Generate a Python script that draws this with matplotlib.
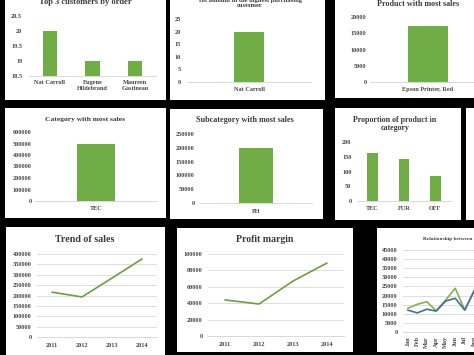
import matplotlib
matplotlib.use("Agg")
import matplotlib.pyplot as plt
from matplotlib.patches import Rectangle

plt.rcParams['font.family'] = ['Liberation Serif', 'DejaVu Serif']

# ---------------- data ----------------
top_customers = ['Nat Carroll', 'Eugene\nHildebrand', 'Maureen\nGastineau']
top_customer_orders = [20, 19, 19]

top_buyer = ['Nat Carroll']
top_buyer_orders = [20]

top_product = ['Epson Printer, Red']
top_product_sales = [17300]

top_category = ['TEC']
top_category_sales = [497000]

top_subcategory = ['PH']
top_subcategory_sales = [199000]

category_labels = ['TEC', 'FUR', 'OFF']
category_products = [163, 142, 85]

years = ['2011', '2012', '2013', '2014']
sales_by_year = [216000, 193000, 284000, 376000]
profit_by_year = [44000, 39000, 67000, 89000]

months = ['Jan', 'Feb', 'Mar', 'Apr', 'May', 'Jun', 'Jul', 'Aug']
monthly_green = [13000, 15200, 16600, 11700, 17600, 24000, 12100, 23000]
monthly_blue = [12000, 10500, 12500, 11500, 17000, 18500, 12000, 22500]

# ---------------- layout helpers ----------------
W, H = 474, 355
fig = plt.figure(figsize=(W / 100, H / 100), dpi=100, facecolor='black')

GREEN = '#70AD47'
LINE_GREEN = '#6E9E3F'
BLUE = '#41709C'
TXT = '#3A3A3A'
TICK = '#454545'
GRID = '#D9D9D9'


def panel(x0, y0, x1, y1):
    fig.add_artist(Rectangle((x0 / W, 1 - y1 / H), (x1 - x0) / W, (y1 - y0) / H,
                             transform=fig.transFigure, facecolor='white',
                             edgecolor='none', zorder=-5))


def axes_at(x0, y0, x1, y1):
    ax = fig.add_axes([x0 / W, 1 - y1 / H, (x1 - x0) / W, (y1 - y0) / H])
    ax.set_facecolor('none')
    for s in ('left', 'right', 'top'):
        ax.spines[s].set_visible(False)
    ax.spines['bottom'].set_color(GRID)
    ax.spines['bottom'].set_linewidth(0.7)
    ax.tick_params(length=0, labelsize=4.5, colors=TICK)
    return ax


def title(x, y, text, size, ha='center'):
    fig.text(x / W, 1 - y / H, text, ha=ha, va='center', fontsize=size,
             fontweight='bold', color=TXT, linespacing=1.0)


def fmt(v):
    return ('%g' % v)


def bar_chart(box, cats, vals, ylim, yticks, width, ypad, xpad):
    ax = axes_at(*box)
    ax.bar(range(len(cats)), vals, width=width, color=GREEN, zorder=2)
    ax.set_xlim(-0.5, len(cats) - 0.5)
    ax.set_ylim(*ylim)
    ax.set_yticks(yticks)
    ax.set_yticklabels([fmt(t) for t in yticks], fontweight='bold')
    ax.set_xticks(range(len(cats)))
    ax.set_xticklabels(cats, fontweight='bold', linespacing=1.1)
    ax.tick_params(axis='y', pad=ypad)
    ax.tick_params(axis='x', pad=xpad)
    return ax


def line_chart(box, cats, series, colors, ylim, yticks, ypad, xpad, nslots=None, rot=0):
    ax = axes_at(*box)
    n = nslots if nslots else len(cats)
    for vals, c in zip(series, colors):
        ax.plot(range(len(vals)), vals, color=c, lw=1.2, zorder=3,
                solid_capstyle='round')
    ax.set_xlim(-0.5, n - 0.5)
    ax.set_ylim(*ylim)
    ax.set_yticks(yticks)
    ax.set_yticklabels([fmt(t) for t in yticks], fontweight='bold')
    ax.set_xticks(range(len(cats)))
    ax.set_xticklabels(cats, fontweight='bold', rotation=rot)
    ax.grid(axis='y', color=GRID, lw=0.6)
    ax.set_axisbelow(True)
    ax.tick_params(axis='y', pad=ypad)
    ax.tick_params(axis='x', pad=xpad)
    return ax


# ---------------- row 1 ----------------
panel(5, -5, 166, 100)
bar_chart((28.5, 16, 156.5, 76), top_customers, top_customer_orders,
          (18.5, 20.5), [18.5, 19, 19.5, 20, 20.5], 0.33, 4.5, 3)
title(85, 2, 'Top 3 customers by order', 6.1)

panel(170, -5, 325, 100)
bar_chart((187, 19, 311, 82), top_buyer, top_buyer_orders,
          (0, 25), [0, 5, 10, 15, 20, 25], 0.24, 4.5, 3.5)
title(250, 3, 'Tot amount in the highest purchasing\ncustomer', 4.7)

panel(335, -5, 480, 98)
bar_chart((370, 17, 486, 82), top_product, top_product_sales,
          (0, 20000), [0, 5000, 10000, 15000, 20000], 0.34, 2.5, 3.5)
title(418, 4, 'Product with most sales', 5.9)

# ---------------- row 2 ----------------
panel(5, 108, 166, 218)
bar_chart((35, 132, 157, 201), top_category, top_category_sales,
          (0, 600000), [0, 100000, 200000, 300000, 400000, 500000, 600000],
          0.31, 2.5, 3.5)
title(85, 120, 'Category with most sales', 5.4)

panel(170, 109, 323, 219)
bar_chart((200, 134, 312, 203), top_subcategory, top_subcategory_sales,
          (0, 250000), [0, 50000, 100000, 150000, 200000, 250000],
          0.30, 4, 4)
title(245, 120, 'Subcategory with most sales', 5.9)

panel(335, 108, 461, 220)
bar_chart((357, 142, 451, 201), category_labels, category_products,
          (0, 200), [0, 50, 100, 150, 200], 0.33, 4, 3.5)
title(395, 124.5, 'Proportion of product in\ncategory', 5.7)

panel(466, 108, 480, 220)

# ---------------- row 3 ----------------
panel(6, 227, 165, 358)
line_chart((37, 254, 157, 337), years, [sales_by_year], [LINE_GREEN],
           (0, 400000), list(range(0, 400001, 50000)), 4, 4)
title(85, 240, 'Trend of sales', 7.2)

panel(177, 228, 353, 352)
line_chart((208, 254, 344, 336), years, [profit_by_year], [LINE_GREEN],
           (0, 100000), list(range(0, 100001, 20000)), 4, 4)
title(265, 239, 'Profit margin', 7.1)

panel(377, 228, 480, 352)
line_chart((403, 250, 517, 332), months, [monthly_green, monthly_blue],
           ['#86B04F', BLUE], (0, 45000), list(range(0, 45001, 5000)),
           4, 3, nslots=12, rot=90)
title(423, 239, 'Relationship between sales and profit', 3.9, ha='left')

fig.savefig('out.png', dpi=100, facecolor='black')
